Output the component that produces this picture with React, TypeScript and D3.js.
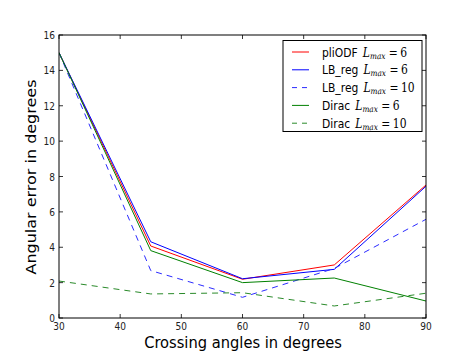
import React from "react";
import * as d3 from "d3";

const angles = [30, 45, 60, 75, 90];
const pliODF6 = [15, 4.07, 2.19, 3.0, 7.52];
const lbReg6 = [15, 4.31, 2.22, 2.75, 7.45];
const lbReg10 = [15, 2.68, 1.17, 2.8, 5.58];
const dirac6 = [15, 3.81, 2.0, 2.26, 0.96];
const dirac10 = [2.09, 1.36, 1.43, 0.68, 1.4];
const xTicks = [30, 40, 50, 60, 70, 80, 90];
const yTicks = [0, 2, 4, 6, 8, 10, 12, 14, 16];

const series = [
  { name: "pliODF", lmax: "6", values: pliODF6, color: "#ff0000", dash: "" },
  { name: "LB_reg", lmax: "6", values: lbReg6, color: "#0000ff", dash: "" },
  { name: "LB_reg", lmax: "10", values: lbReg10, color: "#2b2bff", dash: "6,5" },
  { name: "Dirac", lmax: "6", values: dirac6, color: "#008000", dash: "" },
  { name: "Dirac", lmax: "10", values: dirac10, color: "#2a8a2a", dash: "6,5" },
];

export default function App() {
  const W = 474, H = 355;
  const L = 59, R = 426, T = 35, B = 318;
  const SX = 0.86;
  const x = d3.scaleLinear().domain([30, 90]).range([L, R]);
  const y = d3.scaleLinear().domain([0, 16]).range([B, T]);
  const line = d3
    .line<number>()
    .x((_, i) => x(angles[i]))
    .y((d) => y(d));
  const font = "DejaVu Sans, sans-serif";
  const serif = "DejaVu Serif, serif";
  const lgX = 283, lgY = 40.5, lgW = 139, lgH = 91;
  return (
    <svg width={W} height={H} style={{ position: "absolute", left: 0, top: 0 }}>
      <rect width={W} height={H} fill="#fff" />
      <defs>
        <clipPath id="clip">
          <rect x={L} y={T} width={R - L} height={B - T} />
        </clipPath>
      </defs>
      <g clipPath="url(#clip)">
        {series.map((s, i) => (
          <path
            key={i}
            d={line(s.values) || ""}
            fill="none"
            stroke={s.color}
            strokeWidth={1}
            strokeDasharray={s.dash || undefined}
          />
        ))}
      </g>
      {xTicks.map((t) => (
        <g key={"x" + t}>
          <line x1={x(t)} x2={x(t)} y1={B} y2={B - 4} stroke="#000" strokeWidth={0.8} />
          <line x1={x(t)} x2={x(t)} y1={T} y2={T + 4} stroke="#000" strokeWidth={0.8} />
          <text
            transform={`translate(${x(t)},${B + 11.5}) scale(${SX},1)`}
            textAnchor="middle"
            fontFamily={font}
            fontSize={10.5}
            fill="#222"
          >
            {t}
          </text>
        </g>
      ))}
      {yTicks.map((t) => (
        <g key={"y" + t}>
          <line x1={L} x2={L + 4} y1={y(t)} y2={y(t)} stroke="#000" strokeWidth={0.8} />
          <line x1={R} x2={R - 4} y1={y(t)} y2={y(t)} stroke="#000" strokeWidth={0.8} />
          <text
            transform={`translate(${L - 4},${y(t) + 4}) scale(${SX},1)`}
            textAnchor="end"
            fontFamily={font}
            fontSize={10.5}
            fill="#222"
          >
            {t}
          </text>
        </g>
      ))}
      <rect x={L} y={T} width={R - L} height={B - T} fill="none" stroke="#000" strokeWidth={1} />
      <text
        transform={`translate(${(L + R) / 2 + 0.5},348) scale(0.89,1)`}
        textAnchor="middle"
        fontFamily={font}
        fontSize={16.5}
        fill="#000"
      >
        Crossing angles in degrees
      </text>
      <text
        transform={`translate(36,${(T + B) / 2 + 0.5}) scale(0.89,1) rotate(-90)`}
        textAnchor="middle"
        fontFamily={font}
        fontSize={16}
        fill="#000"
      >
        Angular error in degrees
      </text>
      <rect x={lgX} y={lgY} width={lgW} height={lgH} fill="#fff" stroke="#000" strokeWidth={1} />
      {series.map((s, i) => {
        const yy = 52 + i * 17.8;
        return (
          <g key={"lg" + i}>
            <line
              x1={292}
              x2={309}
              y1={yy}
              y2={yy}
              stroke={s.color}
              strokeWidth={1}
              strokeDasharray={s.dash ? "5,5" : undefined}
            />
            <text
              transform={`translate(322,${yy + 4.5}) scale(${SX},1)`}
              fontFamily={font}
              fontSize={12.5}
              fill="#000"
            >
              {s.name}
              <tspan fontFamily={serif} fontStyle="italic" dx={6}>L</tspan>
              <tspan fontFamily={serif} fontStyle="italic" fontSize={8.5} dy={2}>max</tspan>
              <tspan fontFamily={serif} dy={-2} dx={4}>=</tspan>
              <tspan fontFamily={serif} dx={3}>{s.lmax}</tspan>
            </text>
          </g>
        );
      })}
    </svg>
  );
}
